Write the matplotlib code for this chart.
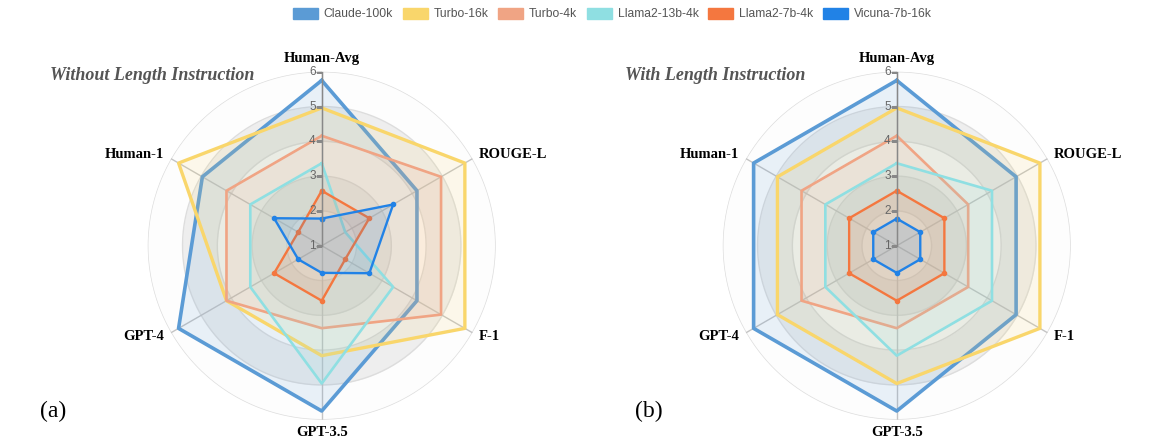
import numpy as np
import matplotlib.pyplot as plt
from matplotlib.patches import Patch
from matplotlib.transforms import offset_copy

# ------------------------------
# data
# ------------------------------
axis_names = ["Human-Avg", "ROUGE-L", "F-1", "GPT-3.5", "GPT-4", "Human-1"]
models = ["Claude-100k", "Turbo-16k", "Turbo-4k", "Llama2-13b-4k", "Llama2-7b-4k", "Vicuna-7b-16k"]
colors = ["#5B9BD5", "#F9D66B", "#F0A484", "#8FDFE2", "#F4773F", "#2182E6"]

# (a) without length instruction
claude_a = [5.75, 4.16, 4.16, 5.75, 5.75, 4.96]
turbo16_a = [4.96, 5.75, 5.75, 4.16, 4.16, 5.75]
turbo4_a = [4.16, 4.96, 4.96, 3.37, 4.16, 4.16]
llama13_a = [3.37, 1.78, 3.37, 4.96, 3.37, 3.37]
llama7_a = [2.58, 2.58, 1.78, 2.58, 2.58, 1.78]
vicuna_a = [1.78, 3.37, 2.58, 1.78, 1.78, 2.58]

# (b) with length instruction
claude_b = [5.75, 4.96, 4.96, 5.75, 5.75, 5.75]
turbo16_b = [4.96, 5.75, 5.75, 4.96, 4.96, 4.96]
turbo4_b = [4.16, 3.37, 3.37, 3.37, 4.16, 4.16]
llama13_b = [3.37, 4.16, 4.16, 4.16, 3.37, 3.37]
llama7_b = [2.58, 2.58, 2.58, 2.58, 2.58, 2.58]
vicuna_b = [1.78, 1.78, 1.78, 1.78, 1.78, 1.78]

r_ticks = [1, 2, 3, 4, 5, 6]

line_widths = [2.6, 2.4, 1.9, 1.9, 1.7, 1.7]
marker_sizes = [0, 0, 0, 0, 3, 3]

serif = ["Liberation Serif", "DejaVu Serif"]
sans = ["Liberation Sans", "DejaVu Sans"]

fig = plt.figure(figsize=(11.75, 4.4), dpi=100)

theta = np.linspace(0, 2 * np.pi, len(axis_names), endpoint=False)
theta_closed = np.append(theta, theta[0])
theta_fine = np.linspace(0, 2 * np.pi, 400)


def draw_radar(ax, series):
    ax.set_theta_offset(np.pi / 2)
    ax.set_theta_direction(-1)
    ax.set_ylim(r_ticks[0], r_ticks[-1])
    ax.set_xticks([])
    ax.set_yticks([])
    ax.grid(False)
    ax.spines["polar"].set_visible(False)
    ax.patch.set_alpha(0)

    # alternating rings
    for k in range(len(r_ticks) - 1):
        c = (0.98, 0.98, 0.98, 0.3) if k % 2 == 0 else (0.78, 0.78, 0.78, 0.3)
        ax.fill_between(theta_fine, r_ticks[k], r_ticks[k + 1], color=c, lw=0, zorder=0)
    for r in r_ticks[1:]:
        ax.plot(theta_fine, [r] * len(theta_fine), color="#dddddd", lw=1, zorder=1)
    for t in theta:
        ax.plot([t, t], [r_ticks[0], r_ticks[-1]], color="#c4c4c4", lw=1, zorder=1)

    # series
    for i, vals in enumerate(series):
        v = np.append(vals, vals[0])
        ax.fill(theta_closed, v, color=colors[i], alpha=0.13, lw=0, zorder=2 + i)
        ax.plot(theta_closed, v, color=colors[i], lw=line_widths[i],
                marker="o" if marker_sizes[i] else None, ms=marker_sizes[i],
                zorder=3 + i)

    # radial axis on Human-Avg spoke
    ax.plot([0, 0], [r_ticks[0], r_ticks[-1]], color="#888888", lw=1, zorder=10)
    ax.plot([0] * len(r_ticks), r_ticks, ls="none", marker=0, ms=4, mew=1,
            color="#888888", zorder=10)
    trans = offset_copy(ax.transData, fig=fig, x=-6, y=0, units="dots")
    for r in r_ticks:
        ax.text(0, r, str(r), transform=trans, ha="right", va="center",
                fontsize=8.5, color="#666666", family=sans, zorder=11)

    # axis names
    for t, name in zip(theta, axis_names):
        s = np.sin(t)
        if abs(s) < 0.1:
            ha, rr = "center", 6.38
        else:
            ha, rr = ("left" if s > 0 else "right"), 6.22
        ax.text(t, rr, name, ha=ha, va="center", fontsize=10.5,
                fontweight="bold", family=serif, color="black", clip_on=False)


ax1 = fig.add_axes([0.1257, 0.0461, 0.2962, 0.7909], projection="polar")
draw_radar(ax1, [claude_a, turbo16_a, turbo4_a, llama13_a, llama7_a, vicuna_a])

ax2 = fig.add_axes([0.6151, 0.0461, 0.2962, 0.7909], projection="polar")
draw_radar(ax2, [claude_b, turbo16_b, turbo4_b, llama13_b, llama7_b, vicuna_b])

fig.text(0.0425, 0.8295, "Without Length Instruction", ha="left", va="center",
         fontsize=13, fontweight="bold", style="italic", family=serif, color="#555555")
fig.text(0.532, 0.8295, "With Length Instruction", ha="left", va="center",
         fontsize=13, fontweight="bold", style="italic", family=serif, color="#555555")

fig.text(0.034, 0.066, "(a)", ha="left", va="center", fontsize=17, family=serif)
fig.text(0.540, 0.066, "(b)", ha="left", va="center", fontsize=17, family=serif)

handles = [Patch(facecolor=c, edgecolor=c, label=m) for m, c in zip(models, colors)]
leg = fig.legend(handles=handles, loc="center", bbox_to_anchor=(0.521, 0.968), ncol=6,
                 frameon=False, prop={"family": sans, "size": 8.7},
                 handlelength=2.1, handleheight=1.05, handletextpad=0.45,
                 columnspacing=0.8)
for txt in leg.get_texts():
    txt.set_color("#555555")

plt.savefig("out.png", dpi=100)
